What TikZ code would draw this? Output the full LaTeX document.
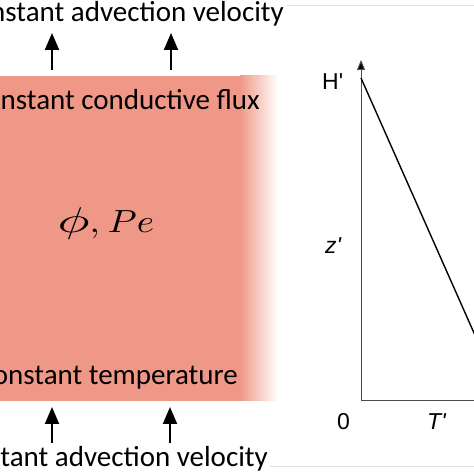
\documentclass[tikz,border=0pt]{standalone}
\usepackage{fontspec}
\usepackage{graphicx}
\setmainfont{Carlito}
\newfontfamily\arial[Ligatures=TeXOff]{Liberation Sans}
\usetikzlibrary{arrows.meta}
\definecolor{salmon}{RGB}{240,152,136}
\definecolor{frame}{RGB}{225,225,225}
\tikzset{
  bigtxt/.style={font=\fontsize{29}{30}\selectfont, inner sep=0pt, anchor=base east},
  plottxt/.style={font=\arial\fontsize{23}{24}\selectfont, inner sep=0pt, anchor=base west},
  flowarrow/.style={line width=2pt, -{Triangle[width=14pt,length=17pt]}},
  axis/.style={line width=1pt, draw=black!70},
}
\begin{document}
\begin{tikzpicture}[x=1pt,y=1pt]
\useasboundingbox (0,0) rectangle (474,474);
\clip (0,0) rectangle (474,474);
% slab
\fill[salmon] (-10,73) rectangle (240,398);
\shade[left color=salmon, right color=white] (240,73) rectangle (278,398);
% frame lines
\draw[frame, line width=1pt] (287,468) -- (474,468);
\draw[frame, line width=1pt] (270,7) -- (474,7);
% texts
\node[bigtxt] (topv) at (284,452) {constant advection velocity};
\node[bigtxt] (flux) at (260,364) {constant conductive flux};
\node[bigtxt] (temp) at (238,89) {constant temperature};
\node[bigtxt] (botv) at (268,7) {constant advection velocity};
\node[inner sep=0pt, anchor=base west, font=\fontsize{10}{12}\selectfont, xscale=3.7, yscale=3.2] (param) at (57,241) {\scalebox{1.45}[1.12]{$\phi$}$,\hspace{0.5pt}Pe$};
% arrows
\coordinate (ta1) at (52,404); \coordinate (th1) at (52,441);
\coordinate (ta2) at (171,404); \coordinate (th2) at (171,441);
\coordinate (ba1) at (52,31); \coordinate (bh1) at (52,67);
\coordinate (ba2) at (170,31); \coordinate (bh2) at (170,67);
\draw[flowarrow] (ta1) -- (th1);
\draw[flowarrow] (ta2) -- (th2);
\draw[flowarrow] (ba1) -- (bh1);
\draw[flowarrow] (ba2) -- (bh2);
% plot
\coordinate (o) at (361,73);
\coordinate (ytop) at (361,414);
\coordinate (xend) at (474,73);
\coordinate (p1) at (361,396);
\coordinate (p2) at (480,127.5);
\draw[axis, -{Triangle[width=8pt,length=10pt,fill=black]}] (o) -- (ytop);
\draw[axis] (o) -- (xend);
\draw[line width=1.4pt] (p1) -- (p2);
\node[plottxt] (H) at (322,384) {H'};
\node[plottxt] (z) at (325,220) {\itshape z'};
\node[plottxt] (zero) at (337,44) {0};
\node[plottxt] (T) at (427,44) {\itshape T'};
\end{tikzpicture}
\end{document}
